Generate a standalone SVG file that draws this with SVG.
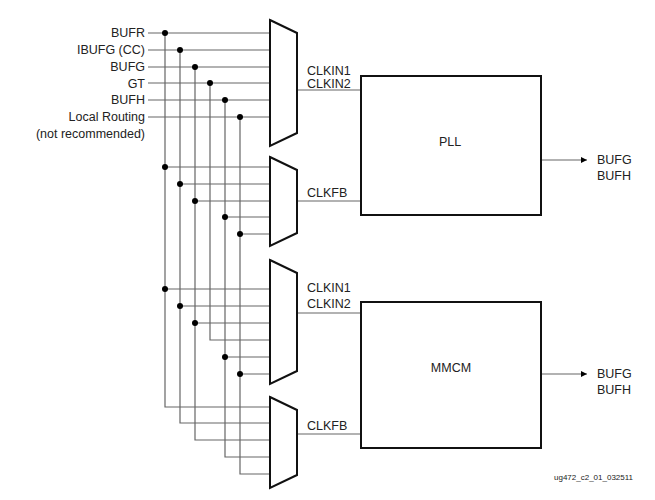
<svg xmlns="http://www.w3.org/2000/svg" width="655" height="500" viewBox="0 0 655 500">
<style>
text{font-family:"Liberation Sans",Arial,sans-serif;font-size:12.5px;fill:#222}
.r{text-anchor:end}
.w{stroke:#666;stroke-width:1.2;fill:none}
.b{stroke:#111;stroke-width:2;fill:#fff}
.d{fill:#000}
</style>
<defs><marker id="ar" viewBox="0 0 10 10" refX="10" refY="5" markerWidth="8" markerHeight="6" orient="auto" markerUnits="userSpaceOnUse"><path d="M0,0L10,5L0,10z" fill="#000"/></marker></defs>
<rect width="655" height="500" fill="#fff"/>
<g id="labels">
<text class="r" x="145" y="37">BUFR</text>
<text class="r" x="145" y="54">IBUFG (CC)</text>
<text class="r" x="145" y="71">BUFG</text>
<text class="r" x="145" y="88">GT</text>
<text class="r" x="145" y="104">BUFH</text>
<text class="r" x="145" y="121">Local Routing</text>
<text class="r" x="145" y="138">(not recommended)</text>
</g>
<g id="connectors">
<path class="w" d="M148,33H270M148,50H270M148,67H270M148,83H270M148,100H270M148,117H270"/>
<path class="w" d="M165,33V407H270M180,50V423H270M195,67V440H270M210,83V340H270M225,100V457H270M240,117V474H270"/>
<path class="w" d="M165,167H270M180,184H270M195,201H270M225,217H270M240,234H270"/>
<path class="w" d="M165,289H270M180,306H270M195,323H270M225,357H270M240,374H270"/>
<path class="w" d="M297,90H361M297,201H361M297,313H361M297,434H361"/>
<path class="w" d="M541,160H587" marker-end="url(#ar)"/>
<path class="w" d="M541,374H587" marker-end="url(#ar)"/>
<g class="d">
<circle cx="165" cy="33" r="3"/><circle cx="180" cy="50" r="3"/><circle cx="195" cy="67" r="3"/><circle cx="210" cy="83" r="3"/><circle cx="225" cy="100" r="3"/><circle cx="240" cy="117" r="3"/>
<circle cx="165" cy="167" r="3"/><circle cx="180" cy="184" r="3"/><circle cx="195" cy="201" r="3"/><circle cx="225" cy="217" r="3"/><circle cx="240" cy="234" r="3"/>
<circle cx="165" cy="289" r="3"/><circle cx="180" cy="306" r="3"/><circle cx="195" cy="323" r="3"/><circle cx="225" cy="357" r="3"/><circle cx="240" cy="374" r="3"/>
</g>
</g>
<g id="mux1"><path class="b" d="M270,20L297,33V133L270,146Z"/><text x="307" y="75">CLKIN1</text><text x="307" y="88">CLKIN2</text></g>
<g id="mux2"><path class="b" d="M270,157L297,170V233L270,246Z"/><text x="307" y="197">CLKFB</text></g>
<g id="mux3"><path class="b" d="M270,260L297,273V371L270,384Z"/><text x="307" y="292">CLKIN1</text><text x="307" y="308">CLKIN2</text></g>
<g id="mux4"><path class="b" d="M270,397L297,410V475L270,488Z"/><text x="307" y="430">CLKFB</text></g>
<g id="pll"><rect class="b" x="361" y="76" width="180" height="139"/><text x="450" y="146" text-anchor="middle" font-size="14">PLL</text><text x="597" y="164">BUFG</text><text x="597" y="180">BUFH</text></g>
<g id="mmcm"><rect class="b" x="361" y="302" width="180" height="146"/><text x="451" y="372" text-anchor="middle" font-size="14">MMCM</text><text x="597" y="378">BUFG</text><text x="597" y="394">BUFH</text></g>
<text x="554" y="480" style="font-size:8px">ug472_c2_01_032511</text>
</svg>
